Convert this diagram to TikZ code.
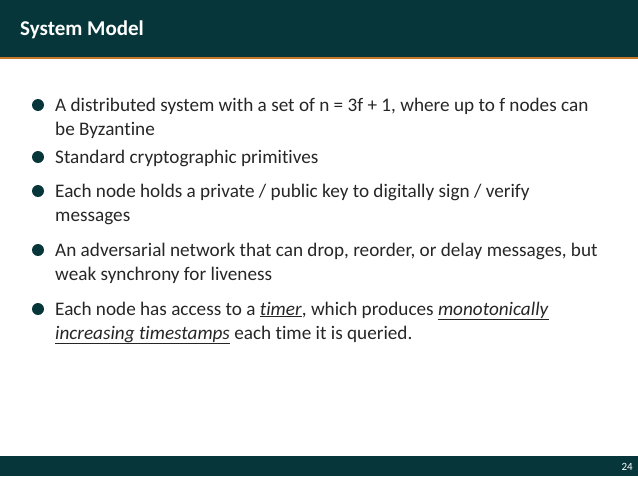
\documentclass[tikz,border=0pt]{standalone}
\usepackage{fontspec}
\setmainfont{Carlito}[RawFeature={-liga;-clig}]
\definecolor{hdr}{HTML}{06363A}
\definecolor{orn}{HTML}{C8782A}
\begin{document}
\begin{tikzpicture}[x=1pt,y=-1pt,
  txt/.style={anchor=base west,inner sep=0pt,font=\fontsize{19.2}{22}\selectfont,text=black!85},
  dot/.style={circle,fill=hdr,inner sep=0pt,minimum size=12pt}]
\useasboundingbox (0,0) rectangle (638,479);
\fill[hdr] (0,0) rectangle (638,57);
\fill[orn] (0,57) rectangle (638,59);
\fill[hdr] (0,456) rectangle (638,476);
\node[anchor=base west,inner sep=0pt,text=white,font=\fontsize{21}{24}\bfseries\selectfont] (title) at (20,35) {System Model};
\node[anchor=base east,inner sep=0pt,text=white,font=\fontsize{11}{12}\selectfont] (pg) at (633,470) {24};
\node[dot] (b1) at (38,105) {};
\node[txt] (t1a) at (55,111) {A distributed system with a set of n = 3f + 1, where up to f nodes can};
\node[txt] (t1b) at (55,135) {be Byzantine};
\node[dot] (b2) at (38,157) {};
\node[txt] (t2) at (55,163) {Standard cryptographic primitives};
\node[dot] (b3) at (38,191) {};
\node[txt] (t3a) at (55,197) {Each node holds a private / public key to digitally sign / verify};
\node[txt] (t3b) at (55,221) {messages};
\node[dot] (b4) at (38,250) {};
\node[txt] (t4a) at (55,256) {An adversarial network that can drop, reorder, or delay messages, but};
\node[txt] (t4b) at (55,280) {weak synchrony for liveness};
\node[dot] (b5) at (38,309) {};
\node[txt] (t5a) at (55,315) {Each node has access to a \underline{\textit{timer}}, which produces \underline{\textit{monotonically}}};
\node[txt] (t5b) at (55,339) {\underline{\textit{increasing timestamps}} each time it is queried.};
\end{tikzpicture}
\end{document}
